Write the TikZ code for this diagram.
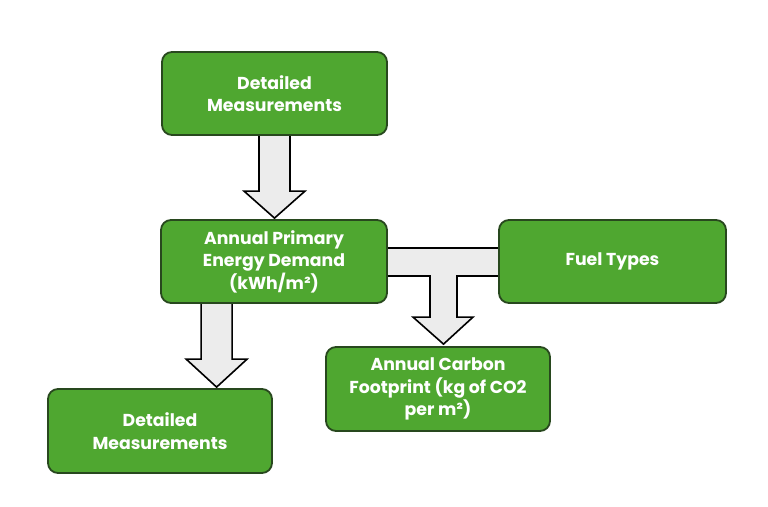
\documentclass[tikz,border=0pt]{standalone}
\usepackage{fontspec}
\setmainfont{Poppins}
\usetikzlibrary{calc}
\definecolor{boxgreen}{RGB}{79,167,48}
\definecolor{boxborder}{RGB}{40,72,30}
\definecolor{arrowfill}{RGB}{236,236,236}
\pgfdeclarelayer{bg}
\pgfdeclarelayer{canvas}
\pgfsetlayers{canvas,bg,main}
\tikzset{
  gbox/.style={draw=boxborder, line width=1.8pt, fill=boxgreen, rounded corners=10pt,
    text=white, font=\fontsize{17.3}{22.5}\selectfont\bfseries, align=center,
    inner sep=0pt},
  barrow/.style={draw=black, line width=1.6pt, fill=arrowfill, line join=miter}
}
\begin{document}
\begin{tikzpicture}[x=1pt,y=1pt]
\begin{pgfonlayer}{canvas}
\useasboundingbox[fill=white] (0,0) rectangle (768,-506);
\end{pgfonlayer}
\node[gbox, minimum width=225pt, minimum height=83pt] (b1) at (274.5,-93.5) {Detailed\\Measurements};
\node[gbox, minimum width=226pt, minimum height=83pt] (b2) at (274,-261.5) {Annual Primary\\Energy Demand\\(kWh/m²)};
\node[gbox, minimum width=227pt, minimum height=83pt] (b3) at (612.5,-261.5) {Fuel Types};
\node[gbox, minimum width=224pt, minimum height=84pt] (b4) at (438,-389) {Annual Carbon\\Footprint (kg of CO2\\per m²)};
\node[gbox, minimum width=224pt, minimum height=84pt] (b5) at (160,-431) {Detailed\\Measurements};
\begin{pgfonlayer}{bg}
  % arrow b1 -> b2
  \draw[barrow] let \p1=(b1.south), \p2=(b1.south |- b2.north) in
    (\x1-15.5,\y1+5) -- (\x1-15.5,\y2+28) -- (\x1-30.5,\y2+28) -- (\x1,\y2+1)
    -- (\x1+30.5,\y2+28) -- (\x1+15.5,\y2+28) -- (\x1+15.5,\y1+5) -- cycle;
  % arrow b2 -> b5
  \draw[barrow] let \p1=($(b2.south west)+(56.5,0)$), \p2=(\p1 |- b5.north) in
    (\x1-15.5,\y1+5) -- (\x1-15.5,\y2+29) -- (\x1-30.5,\y2+29) -- (\x1,\y2+1)
    -- (\x1+30.5,\y2+29) -- (\x1+15.5,\y2+29) -- (\x1+15.5,\y1+5) -- cycle;
  % T arrow b2 + b3 -> b4
  \draw[barrow] let \p1=(b2.east), \p2=(b3.west), \p3=(443.5,0), \p4=(b4.north) in
    (\x1-5,\y1+13.5) -- (\x2+5,\y1+13.5) -- (\x2+5,\y1-14.5) -- (\x3+13.5,\y1-14.5)
    -- (\x3+13.5,\y4+29) -- (\x3+29.5,\y4+29) -- (\x3,\y4+2) -- (\x3-30.5,\y4+29)
    -- (\x3-13.5,\y4+29) -- (\x3-13.5,\y1-14.5) -- (\x1-5,\y1-14.5) -- cycle;
\end{pgfonlayer}
\end{tikzpicture}
\end{document}
